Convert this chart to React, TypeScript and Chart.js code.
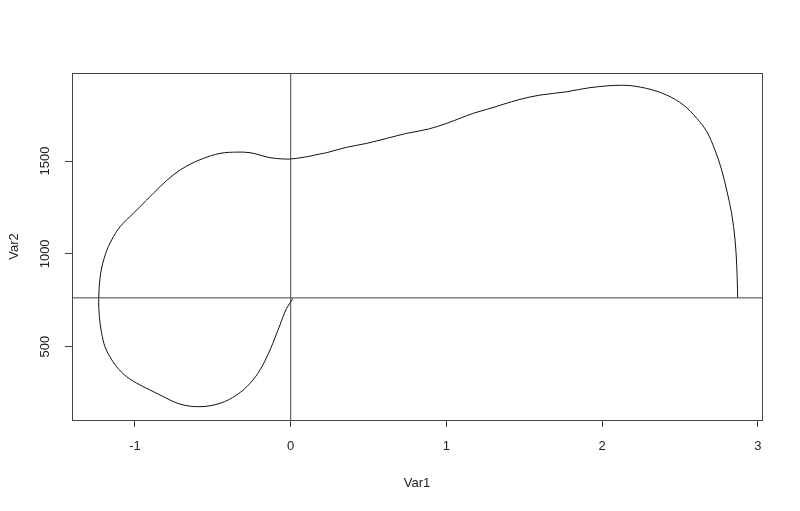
import React, { useEffect, useRef } from "react";
import { Chart, registerables } from "chart.js";

Chart.register(...registerables);

// Parametric curve (Var1, Var2) in drawing order
const var1: number[] = [
  0.015, -0.026, -0.069, -0.133, -0.197, -0.261, -0.347, -0.454, -0.583, -0.711,
  -0.839, -0.904, -0.968, -1.053, -1.118, -1.161, -1.193, -1.214, -1.229, -1.233,
  -1.22, -1.188, -1.15, -1.096, -1.011, -0.925, -0.839, -0.754, -0.668, -0.561,
  -0.454, -0.347, -0.261, -0.197, -0.133, -0.048, 0.002, 0.103, 0.188, 0.231,
  0.36, 0.488, 0.617, 0.745, 0.884, 1.002, 1.173, 1.259, 1.473, 1.601,
  1.773, 1.922, 2.136, 2.286, 2.415, 2.522, 2.608, 2.672, 2.725, 2.768,
  2.8, 2.832, 2.854, 2.865, 2.871,
];
const var2: number[] = [
  760, 707, 617, 482, 375, 303, 240, 195, 177, 191,
  240, 267, 294, 338, 392, 446, 500, 572, 662, 762,
  897, 1003, 1075, 1146, 1218, 1290, 1362, 1425, 1473, 1514,
  1541, 1548, 1545, 1532, 1518, 1511, 1511, 1523, 1538, 1545,
  1574, 1595, 1622, 1649, 1672, 1703, 1757, 1778, 1832, 1855,
  1873, 1895, 1908, 1891, 1855, 1802, 1730, 1659, 1559, 1452,
  1344, 1218, 1075, 931, 764,
];

// Reference lines
const vLineX = 0;
const hLineY = 763;

// Axis ticks
const xTicks: number[] = [-1, 0, 1, 2, 3];
const yTicks: number[] = [500, 1000, 1500];

const X_MIN = -1.4046;
const X_MAX = 3.027;
const Y_MIN = 105.3;
const Y_MAX = 1974;

const FONT = { family: "'Liberation Sans', Arial, sans-serif", size: 13 };
const INK = "#222";
const LINE = "#444";

const boxPlugin = {
  id: "box",
  afterDatasetsDraw(chart: any) {
    const { ctx, chartArea } = chart;
    ctx.save();
    ctx.strokeStyle = LINE;
    ctx.lineWidth = 1;
    ctx.strokeRect(
      Math.round(chartArea.left) + 0.5,
      Math.round(chartArea.top) + 0.5,
      Math.round(chartArea.right - chartArea.left),
      Math.round(chartArea.bottom - chartArea.top)
    );
    ctx.restore();
  },
};

export default function App() {
  const ref = useRef<HTMLCanvasElement | null>(null);

  useEffect(() => {
    if (!ref.current) return;
    const curve = var1.map((x, i) => ({ x, y: var2[i] }));
    const chart = new Chart(ref.current, {
      type: "scatter",
      data: {
        datasets: [
          {
            data: [
              { x: vLineX, y: Y_MIN - 1000 },
              { x: vLineX, y: Y_MAX + 1000 },
            ],
            showLine: true,
            borderColor: LINE,
            borderWidth: 1,
            pointRadius: 0,
          },
          {
            data: [
              { x: X_MIN - 10, y: hLineY },
              { x: X_MAX + 10, y: hLineY },
            ],
            showLine: true,
            borderColor: LINE,
            borderWidth: 1,
            pointRadius: 0,
          },
          {
            data: curve,
            showLine: true,
            borderColor: "#111",
            borderWidth: 1,
            pointRadius: 0,
            tension: 0.35,
          },
        ],
      },
      options: {
        animation: false,
        responsive: false,
        maintainAspectRatio: false,
        events: [],
        layout: { padding: { top: 73, right: 38, left: 0, bottom: 0 } },
        plugins: {
          legend: { display: false },
          tooltip: { enabled: false },
        },
        scales: {
          x: {
            type: "linear",
            min: X_MIN,
            max: X_MAX,
            afterBuildTicks: (s: any) => {
              s.ticks = xTicks.map((v) => ({ value: v }));
            },
            afterFit: (s: any) => {
              s.height = 91;
            },
            grid: {
              drawOnChartArea: false,
              drawTicks: true,
              tickLength: 7,
              tickColor: LINE,
            },
            border: { display: false },
            ticks: {
              color: INK,
              font: FONT,
              padding: 12,
              maxRotation: 0,
              minRotation: 0,
              callback: (v: any) => String(v),
            },
            title: {
              display: true,
              text: "Var1",
              color: INK,
              font: FONT,
              padding: { top: 20, bottom: 20 },
            },
          },
          y: {
            type: "linear",
            min: Y_MIN,
            max: Y_MAX,
            afterBuildTicks: (s: any) => {
              s.ticks = yTicks.map((v) => ({ value: v }));
            },
            afterFit: (s: any) => {
              s.width = 72;
            },
            grid: {
              drawOnChartArea: false,
              drawTicks: true,
              tickLength: 7,
              tickColor: LINE,
            },
            border: { display: false },
            ticks: {
              color: INK,
              font: FONT,
              padding: 5,
              minRotation: 90,
              maxRotation: 90,
              crossAlign: "center",
              callback: (v: any) => String(v),
            },
            title: {
              display: true,
              text: "Var2",
              color: INK,
              font: FONT,
              padding: { top: 7, bottom: 7 },
            },
          },
        },
      },
      plugins: [boxPlugin],
    });
    return () => chart.destroy();
  }, []);

  return (
    <div
      style={{
        position: "fixed",
        left: 0,
        top: 0,
        width: 800,
        height: 511,
        background: "#fff",
      }}
    >
      <canvas ref={ref} width={800} height={511} style={{ width: 800, height: 511 }} />
    </div>
  );
}
